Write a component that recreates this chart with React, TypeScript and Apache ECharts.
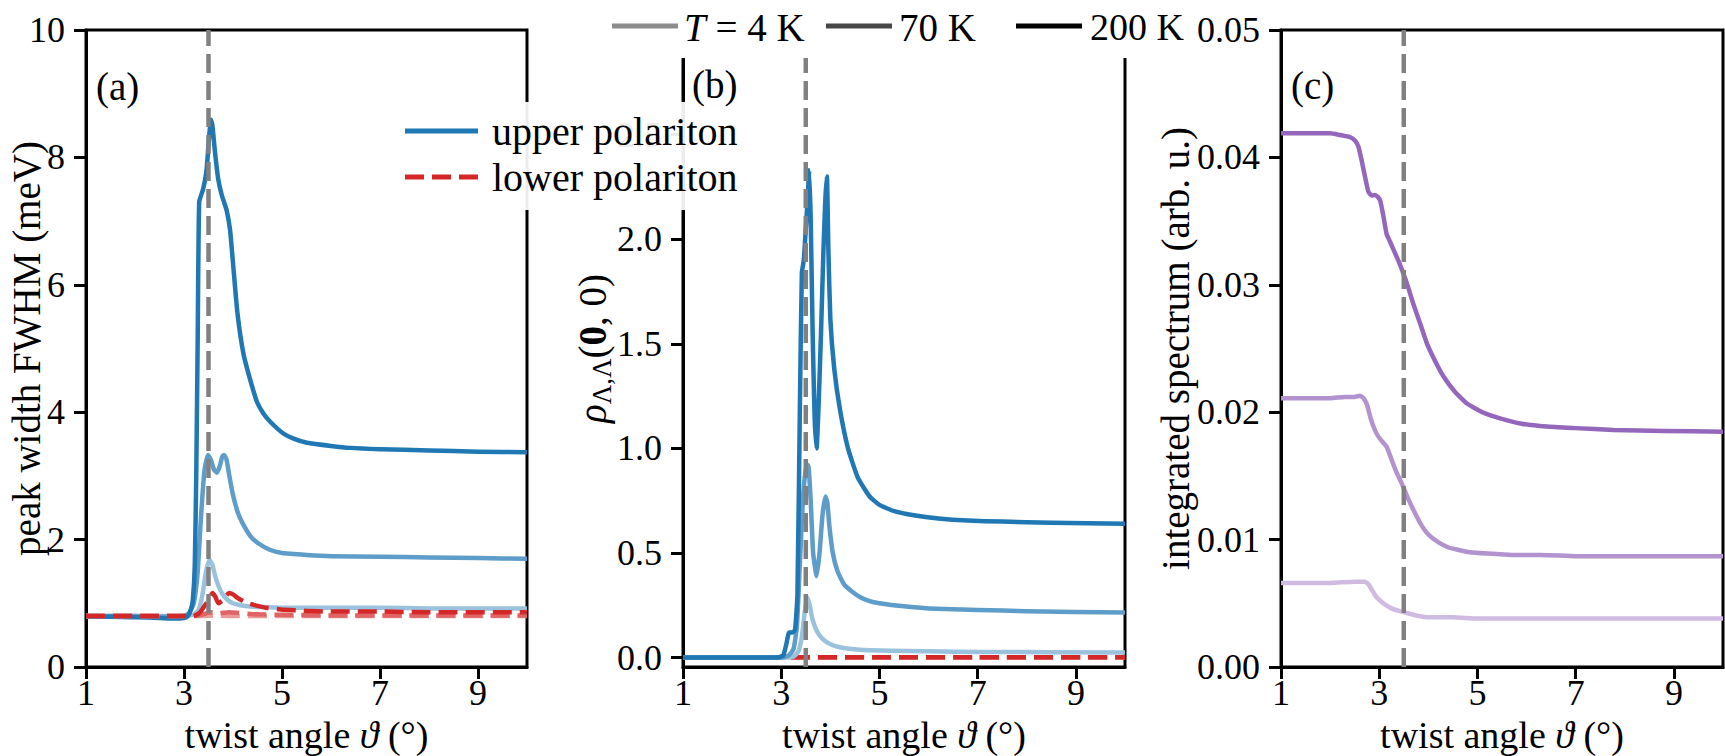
import React, { useEffect, useRef } from "react";
import * as echarts from "echarts";

const FONT = '"Liberation Serif", "DejaVu Serif", serif';
const TICK_FS = 36;
const LABEL_FS = 39;
const XNAME_FS = 38;

// ---------- axes ----------
const X_MIN = 1;
const X_MAX = 10;
const X_TICKS = [1, 3, 5, 7, 9];
const A_Y_TICKS = [0, 2, 4, 6, 8, 10];
const B_Y_TICKS = [0, 0.5, 1.0, 1.5, 2.0, 2.5];
const C_Y_TICKS = [0, 0.01, 0.02, 0.03, 0.04, 0.05];
const MAGIC_ANGLE = 3.5;

// ---------- panel (a): peak width FWHM (meV) ----------
const A_X_UP200 = [1.0,1.5,2.0,2.5,2.8,3.0,3.08,3.14,3.18,3.22,3.25,3.28,3.31,3.39,3.46,3.51,3.55,3.58,3.63,3.70,3.77,3.87,3.94,4.0,4.09,4.21,4.35,4.49,4.62,4.76,5.02,5.25,5.51,6.0,6.39,7.0,8.0,9.0,10.0];
const A_Y_UP200 = [0.79,0.79,0.78,0.77,0.76,0.77,0.8,0.9,1.05,1.6,3.0,5.2,7.3,7.5,7.8,8.3,8.59,8.5,8.1,7.65,7.41,7.17,6.86,6.34,5.56,4.93,4.51,4.16,3.98,3.85,3.67,3.58,3.52,3.47,3.44,3.42,3.4,3.38,3.37];
const A_X_UP70 = [1.0,2.0,2.5,3.0,3.1,3.2,3.28,3.35,3.42,3.49,3.55,3.61,3.67,3.73,3.78,3.82,3.87,3.93,4.0,4.1,4.2,4.35,4.5,4.75,5.0,5.5,6.0,7.0,8.0,9.0,10.0];
const A_Y_UP70 = [0.8,0.8,0.79,0.8,0.84,1.0,1.5,2.4,3.1,3.33,3.25,3.1,3.05,3.15,3.3,3.33,3.25,2.98,2.7,2.42,2.25,2.06,1.95,1.84,1.79,1.76,1.74,1.73,1.72,1.71,1.7];
const A_X_UP4 = [1.0,2.0,3.0,3.2,3.3,3.38,3.45,3.52,3.58,3.64,3.7,3.78,3.88,4.0,4.15,4.35,4.6,5.0,6.0,7.0,8.0,10.0];
const A_Y_UP4 = [0.8,0.8,0.8,0.82,0.9,1.15,1.5,1.68,1.6,1.42,1.28,1.15,1.06,1.0,0.97,0.95,0.94,0.93,0.93,0.93,0.92,0.92];
const A_X_LO200 = [1.0,2.0,3.0,3.18,3.26,3.33,3.42,3.5,3.58,3.64,3.7,3.8,3.86,3.92,4.0,4.1,4.22,4.35,4.5,4.68,5.02,5.5,6.0,7.0,8.0,10.0];
const A_Y_LO200 = [0.8,0.8,0.8,0.8,0.82,0.86,0.96,1.05,1.16,1.1,1.0,1.05,1.12,1.16,1.14,1.08,1.03,0.99,0.96,0.93,0.9,0.88,0.87,0.87,0.86,0.86];
const A_X_LO70 = [1.0,3.0,3.3,3.45,3.55,3.68,3.8,3.92,4.1,4.4,5.0,6.0,8.0,10.0];
const A_Y_LO70 = [0.8,0.8,0.81,0.84,0.86,0.84,0.85,0.86,0.85,0.83,0.82,0.81,0.81,0.81];
const A_X_LO4 = [1.0,3.0,3.4,3.6,4.0,5.0,10.0];
const A_Y_LO4 = [0.8,0.8,0.8,0.81,0.8,0.8,0.8];

// ---------- panel (b): rho_{Lambda,Lambda}(0,0) ----------
const B_X_UP200 = [1.0,2.0,2.9,3.04,3.1,3.16,3.22,3.28,3.33,3.38,3.42,3.46,3.5,3.54,3.57,3.6,3.64,3.68,3.72,3.76,3.81,3.86,3.9,3.93,3.96,4.0,4.08,4.2,4.36,4.56,4.8,5.0,5.3,5.7,6.2,6.8,7.5,8.5,10.0];
const B_Y_UP200 = [0,0,0,0.01,0.06,0.12,0.12,0.13,0.3,1.2,1.84,1.9,2.05,2.2,2.33,2.1,1.55,1.15,1.0,1.2,1.55,1.95,2.2,2.3,1.95,1.62,1.38,1.18,1.0,0.86,0.77,0.73,0.7,0.68,0.665,0.655,0.65,0.645,0.64];
const B_X_UP70 = [1.0,2.0,3.0,3.15,3.25,3.32,3.38,3.44,3.5,3.55,3.6,3.65,3.72,3.78,3.84,3.9,3.94,3.98,4.05,4.15,4.28,4.42,4.6,4.8,5.0,5.5,6.0,7.0,8.0,10.0];
const B_Y_UP70 = [0,0,0,0.01,0.04,0.15,0.45,0.75,0.9,0.92,0.75,0.5,0.39,0.5,0.68,0.77,0.74,0.63,0.5,0.41,0.35,0.32,0.29,0.27,0.26,0.245,0.235,0.228,0.222,0.215];
const B_X_UP4 = [1.0,2.0,3.0,3.25,3.35,3.42,3.48,3.53,3.58,3.64,3.72,3.82,3.95,4.1,4.3,4.6,5.0,6.0,7.0,10.0];
const B_Y_UP4 = [0,0,0,0.005,0.03,0.1,0.22,0.29,0.25,0.18,0.13,0.095,0.07,0.055,0.045,0.038,0.034,0.03,0.027,0.024];
const B_X_LO = [1.0,3.0,5.0,7.0,10.0];
const B_Y_LO200 = [0.002,0.002,0.002,0.002,0.002];
const B_Y_LO70 = [0.002,0.002,0.002,0.002,0.002];
const B_Y_LO4 = [0.001,0.001,0.001,0.001,0.001];

// ---------- panel (c): integrated spectrum ----------
const C_X_200 = [1.0,1.5,2.0,2.2,2.4,2.51,2.58,2.64,2.71,2.78,2.85,2.91,2.97,3.02,3.08,3.15,3.23,3.32,3.4,3.49,3.59,3.69,3.83,3.97,4.14,4.31,4.54,4.78,5.1,5.46,5.9,6.41,7.0,7.77,8.8,10.0];
const C_Y_200 = [0.0419,0.0419,0.0419,0.04176,0.0416,0.0413,0.0408,0.0398,0.0385,0.0373,0.0370,0.03705,0.0369,0.0366,0.0355,0.0340,0.0333,0.0325,0.0318,0.0309,0.0298,0.02855,0.0270,0.0254,0.0240,0.0228,0.0216,0.0207,0.0200,0.01952,0.0191,0.01887,0.01875,0.01861,0.01853,0.01847];
const C_X_70 = [1.0,1.5,2.0,2.3,2.5,2.61,2.68,2.75,2.82,2.9,2.98,3.06,3.15,3.25,3.35,3.46,3.58,3.7,3.85,4.0,4.2,4.4,4.6,4.85,5.2,5.7,6.3,7.0,8.0,9.0,10.0];
const C_Y_70 = [0.0211,0.0211,0.0211,0.0212,0.0212,0.0213,0.0211,0.0206,0.0196,0.0187,0.0181,0.0177,0.0173,0.0163,0.0153,0.0144,0.0133,0.0123,0.0112,0.0104,0.0098,0.0094,0.0092,0.0090,0.0089,0.0088,0.0088,0.0087,0.0087,0.0087,0.0087];
const C_X_4 = [1.0,2.0,2.5,2.7,2.78,2.86,2.94,3.02,3.12,3.25,3.4,3.6,3.8,4.0,4.5,5.0,6.0,8.0,10.0];
const C_Y_4 = [0.0066,0.0066,0.0067,0.0067,0.0065,0.0060,0.0055,0.0052,0.0049,0.0046,0.0044,0.0042,0.0040,0.0039,0.0039,0.0038,0.0038,0.0038,0.0038];

// ---------- colours ----------
const BLUE = ["#9ac2dd", "#5e9dc9", "#1f77b4"];
const RED = ["#eb9898", "#e06465", "#d62728"];
const PURPLE = ["#cfbbe1", "#b292cf", "#9467bd"];
const GREYS = ["#8c8c8c", "#474747", "#000000"];

const GRIDS = [
  { left: 86, top: 30, width: 441, height: 637 },
  { left: 683, top: 30, width: 442, height: 637 },
  { left: 1281, top: 30, width: 442, height: 637 },
];

const DASH = [19, 8];
const LW = 4.5;

function pts(xs: number[], ys: number[]) {
  return xs.map((x, i) => [x, ys[i]]);
}

function ser(g: number, xs: number[], ys: number[], color: string, z: number, dashed = false) {
  return {
    type: "line",
    xAxisIndex: g,
    yAxisIndex: g,
    data: pts(xs, ys),
    symbol: "none",
    showSymbol: false,
    smooth: 0.15,
    clip: true,
    silent: true,
    z,
    lineStyle: { color, width: LW, type: dashed ? DASH : "solid", cap: "butt", join: "round" },
  };
}

function vline(g: number, y0: number, y1: number) {
  return {
    type: "line",
    xAxisIndex: g,
    yAxisIndex: g,
    data: [[MAGIC_ANGLE, y0], [MAGIC_ANGLE, y1]],
    symbol: "none",
    showSymbol: false,
    silent: true,
    z: 20,
    lineStyle: { color: "#808080", width: LW, type: DASH, cap: "butt" },
  };
}

function xAxis(g: number) {
  return {
    gridIndex: g,
    type: "value",
    min: X_MIN,
    max: X_MAX,
    axisLine: { show: true, onZero: false, lineStyle: { color: "#000", width: 3 } },
    axisTick: { show: true, length: 12, lineStyle: { color: "#000", width: 3 }, customValues: X_TICKS },
    axisLabel: {
      show: true,
      customValues: X_TICKS,
      fontSize: TICK_FS,
      lineHeight: 30,
      fontFamily: FONT,
      color: "#000",
      margin: 11,
    },
    splitLine: { show: false },
    name: "twist angle {i|ϑ} (°)",
    nameLocation: "middle",
    nameGap: 51,
    nameMoveOverlap: false,
    nameTextStyle: {
      fontSize: XNAME_FS,
      lineHeight: 34,
      fontFamily: FONT,
      color: "#000",
      rich: { i: { fontStyle: "italic", fontSize: XNAME_FS, lineHeight: 34, fontFamily: FONT, color: "#000" } },
    },
  };
}

function yAxis(g: number, min: number, max: number, ticks: number[], digits: number, name: string, gap: number, rich?: any) {
  return {
    gridIndex: g,
    type: "value",
    min,
    max,
    axisLine: { show: true, onZero: false, lineStyle: { color: "#000", width: 3 } },
    axisTick: { show: true, length: 12, lineStyle: { color: "#000", width: 3 }, customValues: ticks },
    axisLabel: {
      show: true,
      customValues: ticks,
      fontSize: TICK_FS,
      fontFamily: FONT,
      color: "#000",
      margin: 21,
      formatter: (v: number) => v.toFixed(digits),
    },
    splitLine: { show: false },
    name,
    nameLocation: "middle",
    nameRotate: 90,
    nameGap: gap,
    nameMoveOverlap: false,
    nameTextStyle: { fontSize: LABEL_FS, fontFamily: FONT, color: "#000", rich },
  };
}

function txt(x: number, y: number, text: string, size = LABEL_FS, rich?: any) {
  return {
    type: "text",
    x,
    y,
    z: 102,
    style: {
      text,
      fontSize: size,
      fontFamily: FONT,
      fill: "#000",
      align: "left",
      verticalAlign: "middle",
      rich,
    },
  };
}

function hline(x1: number, x2: number, y: number, color: string, dashed = false) {
  return {
    type: "line",
    z: 102,
    shape: { x1, y1: y, x2, y2: y },
    style: { stroke: color, lineWidth: 5, lineDash: dashed ? DASH : null, lineCap: "butt" },
  };
}

export default function App() {
  const ref = useRef<HTMLDivElement>(null);
  useEffect(() => {
    if (!ref.current) return;
    const chart = echarts.init(ref.current, null, { renderer: "svg" });
    const italicRich = { i: { fontStyle: "italic", fontSize: 39, fontFamily: FONT, fill: "#000" } };
    const rhoRich = {
      i: { fontStyle: "italic", fontSize: LABEL_FS, fontFamily: FONT, color: "#000", lineHeight: 46, verticalAlign: "middle" },
      s: { fontSize: 27, fontFamily: FONT, color: "#000", lineHeight: 46, verticalAlign: "bottom", padding: [16, 0, 0, 0] },
      n: { fontSize: LABEL_FS, fontFamily: FONT, color: "#000", lineHeight: 46, verticalAlign: "middle" },
      b: { fontSize: LABEL_FS, fontFamily: FONT, color: "#000", fontWeight: "bold", lineHeight: 46, verticalAlign: "middle" },
    };
    const option = {
      animation: false,
      backgroundColor: "#fff",
      grid: GRIDS.map((g) => ({
        ...g,
        containLabel: false,
        outerBoundsMode: "none",
        show: true,
        borderColor: "#000",
        borderWidth: 3,
        backgroundColor: "transparent",
      })),
      xAxis: [xAxis(0), xAxis(1), xAxis(2)],
      yAxis: [
        yAxis(0, 0, 10, A_Y_TICKS, 0, "peak width FWHM (meV)", 40),
        yAxis(1, -0.045, 3.0, B_Y_TICKS, 1, "{i|ρ}{s|Λ,Λ}{n|(}{b|0}{n|, 0)}", 68, rhoRich),
        yAxis(2, 0, 0.05, C_Y_TICKS, 2, "integrated spectrum (arb. u.)", 86),
      ],
      series: [
        ser(0, A_X_UP4, A_Y_UP4, BLUE[0], 3),
        ser(0, A_X_UP70, A_Y_UP70, BLUE[1], 4),
        ser(0, A_X_UP200, A_Y_UP200, BLUE[2], 5),
        ser(0, A_X_LO4, A_Y_LO4, RED[0], 6, true),
        ser(0, A_X_LO70, A_Y_LO70, RED[1], 7, true),
        ser(0, A_X_LO200, A_Y_LO200, RED[2], 8, true),
        vline(0, 0, 10),
        ser(1, B_X_LO, B_Y_LO4, RED[0], 2, true),
        ser(1, B_X_LO, B_Y_LO70, RED[1], 2, true),
        ser(1, B_X_LO, B_Y_LO200, RED[2], 2, true),
        ser(1, B_X_UP4, B_Y_UP4, BLUE[0], 3),
        ser(1, B_X_UP70, B_Y_UP70, BLUE[1], 4),
        ser(1, B_X_UP200, B_Y_UP200, BLUE[2], 5),
        vline(1, -0.045, 3.0),
        ser(2, C_X_4, C_Y_4, PURPLE[0], 3),
        ser(2, C_X_70, C_Y_70, PURPLE[1], 4),
        ser(2, C_X_200, C_Y_200, PURPLE[2], 5),
        vline(2, 0, 0.05),
      ],
      graphic: [
        // panel labels
        txt(96, 86, "(a)", 39),
        txt(692, 84, "(b)", 39),
        txt(1291, 85, "(c)", 39),
        // legend of panel (a)
        { type: "rect", z: 100, shape: { x: 395, y: 102, width: 355, height: 108 }, style: { fill: "rgba(255,255,255,0.92)" } },
        hline(405, 478, 131, BLUE[2]),
        hline(405, 478, 177, RED[2], true),
        txt(492, 131, "upper polariton", 40),
        txt(492, 177, "lower polariton", 40),
        // temperature legend
        { type: "rect", z: 100, shape: { x: 603, y: 0, width: 588, height: 58 }, style: { fill: "#fff" } },
        hline(612, 678, 26, GREYS[0]),
        txt(684, 27, "{i|T} = 4 K", 39, italicRich),
        hline(826, 892, 26, GREYS[1]),
        txt(899, 27, "70 K", 39),
        hline(1016, 1082, 26, GREYS[2]),
        txt(1090, 27, "200 K", 38),
      ],
    };
    chart.setOption(option as any);
    return () => chart.dispose();
  }, []);
  return <div ref={ref} style={{ position: "absolute", left: 0, top: 0, width: 1725, height: 756 }} />;
}
